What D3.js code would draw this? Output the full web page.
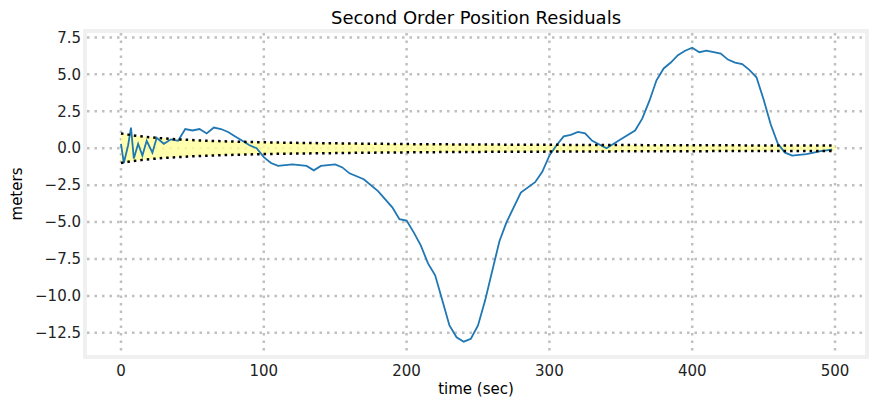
<!DOCTYPE html><html><head><meta charset="utf-8"><script src="https://cdn.jsdelivr.net/npm/d3@7"></script>
<style>body{margin:0;background:#fff}svg{font-family:"DejaVu Sans",sans-serif}</style></head><body><svg id="c" width="879" height="407"></svg><script>
const times=[0,2,5,7,9,12,15,18,22,25,30,35,40,45,50,55,60,65,70,75,80,85,90,95,100,105,110,120,130,135,140,150,155,160,170,180,190,195,200,205,210,215,220,225,230,235,240,245,250,255,260,265,270,275,280,290,295,300,305,310,315,320,325,330,340,345,350,360,365,370,375,380,385,390,395,400,405,410,420,425,430,435,440,445,450,455,460,465,470,480,490,498];
const residuals=[0.3,-1.0,0.2,1.4,-0.7,0.3,-0.5,0.5,-0.3,0.7,0.3,0.6,0.5,1.3,1.2,1.3,1.0,1.4,1.3,1.1,0.8,0.5,0.2,0.0,-0.6,-1.0,-1.2,-1.1,-1.2,-1.5,-1.2,-1.1,-1.3,-1.7,-2.1,-2.9,-4.0,-4.8,-4.9,-5.7,-6.6,-7.8,-8.6,-10.3,-12.0,-12.8,-13.1,-12.9,-12.0,-10.3,-8.3,-6.3,-5.0,-4.0,-3.0,-2.3,-1.6,-0.5,0.2,0.8,0.9,1.1,1.0,0.5,0.0,0.3,0.6,1.2,2.0,3.2,4.6,5.4,5.8,6.3,6.6,6.8,6.5,6.6,6.4,6.0,5.8,5.7,5.3,4.8,3.3,1.6,0.3,-0.3,-0.5,-0.4,-0.2,-0.1];
const envTimes=[0,5,10,25,50,75,100,150,200,300,400,500];
const envStd=[1.0,0.92,0.85,0.7,0.55,0.46,0.4,0.33,0.28,0.23,0.2,0.18];
const xTicks=[0,100,200,300,400,500];
const yTicks=[-12.5,-10,-7.5,-5,-2.5,0,2.5,5,7.5];
const svg=d3.select("#c");
const L=87,R=865,T=33,B=355;
const x=d3.scaleLinear().domain([-23.8,521]).range([L,R]);
const y=d3.scaleLinear().domain([-14.0,7.8]).range([B,T]);
svg.append("rect").attr("x",L-2).attr("y",T-2).attr("width",R-L+4).attr("height",B-T+4).attr("fill","#fff").attr("stroke","#f0f0f0").attr("stroke-width",4);
const g=svg.append("g");
xTicks.forEach(t=>g.append("line").attr("x1",x(t)).attr("x2",x(t)).attr("y1",T).attr("y2",B).attr("stroke","#c0c0c0").attr("stroke-width",2.5).attr("stroke-dasharray","2.5,5"));
yTicks.forEach(t=>g.append("line").attr("y1",y(t)).attr("y2",y(t)).attr("x1",L).attr("x2",R).attr("stroke","#c0c0c0").attr("stroke-width",2.5).attr("stroke-dasharray","2.5,5"));
const env=envTimes.map((t,i)=>({t,s:envStd[i]}));
svg.append("path").datum(env).attr("d",d3.area().x(d=>x(d.t)).y0(d=>y(-d.s)).y1(d=>y(d.s)).curve(d3.curveMonotoneX)).attr("fill","#ffff99").attr("opacity",0.8);
svg.append("path").datum(times.map((t,i)=>[t,residuals[i]])).attr("d",d3.line().x(d=>x(d[0])).y(d=>y(d[1]))).attr("fill","none").attr("stroke","#1f77b4").attr("stroke-width",1.8);
[1,-1].forEach(s=>svg.append("path").datum(env).attr("d",d3.line().x(d=>x(d.t)).y(d=>y(s*d.s)).curve(d3.curveMonotoneX)).attr("fill","none").attr("stroke","#000").attr("stroke-width",2.5).attr("stroke-dasharray","2.5,4"));
const fmt=v=>(v<0?"\u2212":"")+Math.abs(v).toFixed(1);
yTicks.forEach(t=>svg.append("text").attr("x",L-6).attr("y",y(t)).attr("dy","0.35em").attr("text-anchor","end").attr("font-size",15).attr("fill","#222").text(fmt(t)));
xTicks.forEach(t=>svg.append("text").attr("x",x(t)).attr("y",B+21).attr("text-anchor","middle").attr("font-size",15).attr("fill","#222").text(t));
svg.append("text").attr("x",(L+R)/2).attr("y",24).attr("text-anchor","middle").attr("font-size",18).text("Second Order Position Residuals");
svg.append("text").attr("x",(L+R)/2).attr("y",394).attr("text-anchor","middle").attr("font-size",15).text("time (sec)");
svg.append("text").attr("transform",`translate(22,${(T+B)/2}) rotate(-90)`).attr("text-anchor","middle").attr("font-size",15).text("meters");
</script></body></html>
